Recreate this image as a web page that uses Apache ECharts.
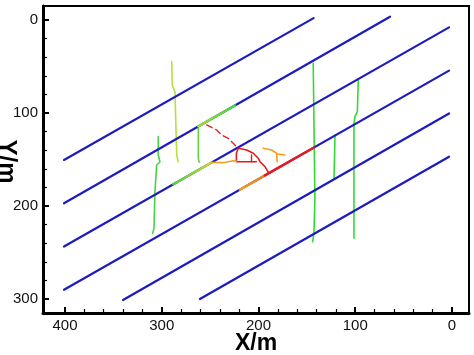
<!DOCTYPE html>
<html><head><meta charset="utf-8">
<script src="https://cdn.jsdelivr.net/npm/echarts@6/dist/echarts.min.js"></script>
<style>html,body{margin:0;padding:0;background:#fff}#c{width:474px;height:355px}</style>
</head><body><div id="c"></div>
<script>
// tick labels
const xTicks = [0, 100, 200, 300, 400];
const yTicks = [0, 100, 200, 300];
const xMinor = [20,40,60,80,120,140,160,180,220,240,260,280,320,340,360,380];
const yMinor = [20,40,60,80,120,140,160,180,220,240,260,280];

// parallel blue lines [x, y]
const line1 = [[401,150.5],[143,-2]];
const line2 = [[401,197],[64,-3.5]];
const line3 = [[401,243.5],[3,8]];
const line4 = [[401,290],[3,54.5]];
const line5 = [[340,301],[3,100.5]];
const line6 = [[260.5,300],[3,147]];

// coloured sections on the lines
const seg2Green = [[262.2,114.4],[224.3,91.9]];
const seg3Yellow = [[288,176.6],[248.4,153.2]];
const seg4Orange = [[219.1,182.4],[193.3,167.1]];
const seg4Red = [[193.3,167.1],[142.6,137.1]];

// vertical green fractures
const frac1 = [[303.6,125.5],[303.6,145.2],[301.8,152.7],[305.2,155.9],[307,184.6],[308,224],[309.4,229.4]];
const frac2 = [[289.7,44.8],[289.1,69.9],[286.3,77.1],[284.5,145.2],[282.9,152.4]];
const frac3 = [[262.2,114.4],[262.2,149],[261.2,152.8]];
const frac4 = [[143.4,46.6],[141.7,191.7],[142.6,227.6],[144,238.4]];
const frac5 = [[120.9,123.7],[121.9,170.2]];
const frac6 = [[96.8,64.5],[97.8,98.6],[100.3,104],[101.3,111.1],[101.3,234.7]];

// red / orange crack paths
const crackDash = [[253.5,112.9],[243.2,118.3],[238,123.7],[231.2,127.2],[226.1,132.6],[220.9,138]];
const crackMain = [[220.9,138],[212.2,139.8],[205.4,143.3],[200.2,148.7],[198.4,152.4],[193.3,157.7],[189.2,164.7]];
const crackLoop = [[220.9,138],[222.8,143.3],[222.8,152.4],[212.4,152.4],[202.1,152.4]];
const crackStem = [[207.2,145.2],[207.2,152.4]];
const orangeLink = [[248.4,153.2],[236.5,153.4],[226,151.4],[222.8,152]];
const orangeY = [[195.1,138],[186.5,139.8],[181.3,143.3],[180.7,152.4]];
const orangeYBranch = [[180.7,144.1],[172.6,145.2]];

const BLUE = '#1c1cbe';
function grad(c0, c1) {
  return {type:'linear', x:0, y:0, x2:1, y2:0, colorStops:[{offset:0,color:c0},{offset:1,color:c1}]};
}
function ln(data, color, width, type) {
  return {type:'line', data:data, showSymbol:false, symbol:'none', silent:true,
    lineStyle:{color:color, width:width, type:type||'solid', cap:'round', join:'round'}};
}

const series = [
  ln(frac1,'#45d445',1.6), ln(frac2,'#b6e03e',1.6), ln(frac3,'#62d63c',1.6),
  ln(frac4,'#33da33',1.6), ln(frac5,'#33da33',1.6), ln(frac6,'#33da33',1.6),
  ln(line1,BLUE,2.2), ln(line2,BLUE,2.2), ln(line3,BLUE,2.2),
  ln(line4,BLUE,2.2), ln(line5,BLUE,2.2), ln(line6,BLUE,2.2),
  ln(seg2Green, grad('#a6de3a','#3ada3a'), 2.4),
  ln(seg3Yellow, grad('#4cd23c','#d0dc2c'), 2.4),
  ln(seg4Orange, grad('#f0a628','#f07a1e'), 2.4),
  ln(seg4Red,'#e81c1c',2.4),
  ln(crackDash,'#e82020',1.4,[6,4]),
  ln(crackMain,'#e41a1a',1.6), ln(crackLoop,'#e41a1a',1.6), ln(crackStem,'#e41a1a',1.4),
  ln(orangeLink,'#f0a020',1.6), ln(orangeY,'#f0a020',1.6), ln(orangeYBranch,'#f0a020',1.4)
];

const FONT = 'Liberation Sans, Arial, sans-serif';
const chart = echarts.init(document.getElementById('c'));
chart.setOption({
  animation:false,
  backgroundColor:'#fff',
  grid:{left:43, right:5, top:6, bottom:42, outerBoundsMode:'none', containLabel:false,
        show:true, borderColor:'#000', borderWidth:2, backgroundColor:'transparent'},
  xAxis:[
    {type:'value', inverse:true, min:-17.6, max:422.7, position:'bottom',
     axisLine:{onZero:false, lineStyle:{color:'#000', width:3}},
     axisTick:{inside:true, length:6, customValues:xTicks, lineStyle:{color:'#000', width:2}},
     axisLabel:{customValues:xTicks, fontSize:15, color:'#111', margin:5, fontFamily:FONT},
     splitLine:{show:false},
     name:'X/m', nameLocation:'middle', nameGap:19, nameMoveOverlap:false,
     nameTextStyle:{fontSize:23, fontWeight:'bold', color:'#000', fontFamily:FONT}},
    {type:'value', inverse:true, min:-17.6, max:422.7, position:'bottom',
     axisLine:{show:false, onZero:false},
     axisTick:{inside:true, length:4, customValues:xMinor, lineStyle:{color:'#000', width:1.2}},
     axisLabel:{show:false}, splitLine:{show:false}}
  ],
  yAxis:[
    {type:'value', inverse:true, min:-15, max:315, position:'left',
     axisLine:{onZero:false, lineStyle:{color:'#000', width:3}},
     axisTick:{inside:true, length:6, customValues:yTicks, lineStyle:{color:'#000', width:2}},
     axisLabel:{customValues:yTicks, fontSize:15, color:'#111', margin:5, fontFamily:FONT},
     splitLine:{show:false},
     name:'Y/m', nameLocation:'middle', nameGap:24, nameRotate:-90, nameMoveOverlap:false,
     nameTextStyle:{fontSize:24, fontWeight:'bold', color:'#000', fontFamily:FONT, padding:[0,0,0,4]}},
    {type:'value', inverse:true, min:-15, max:315, position:'left',
     axisLine:{show:false, onZero:false},
     axisTick:{inside:true, length:4, customValues:yMinor, lineStyle:{color:'#000', width:1.2}},
     axisLabel:{show:false}, splitLine:{show:false}}
  ],
  series: series
});
</script>
</body></html>
